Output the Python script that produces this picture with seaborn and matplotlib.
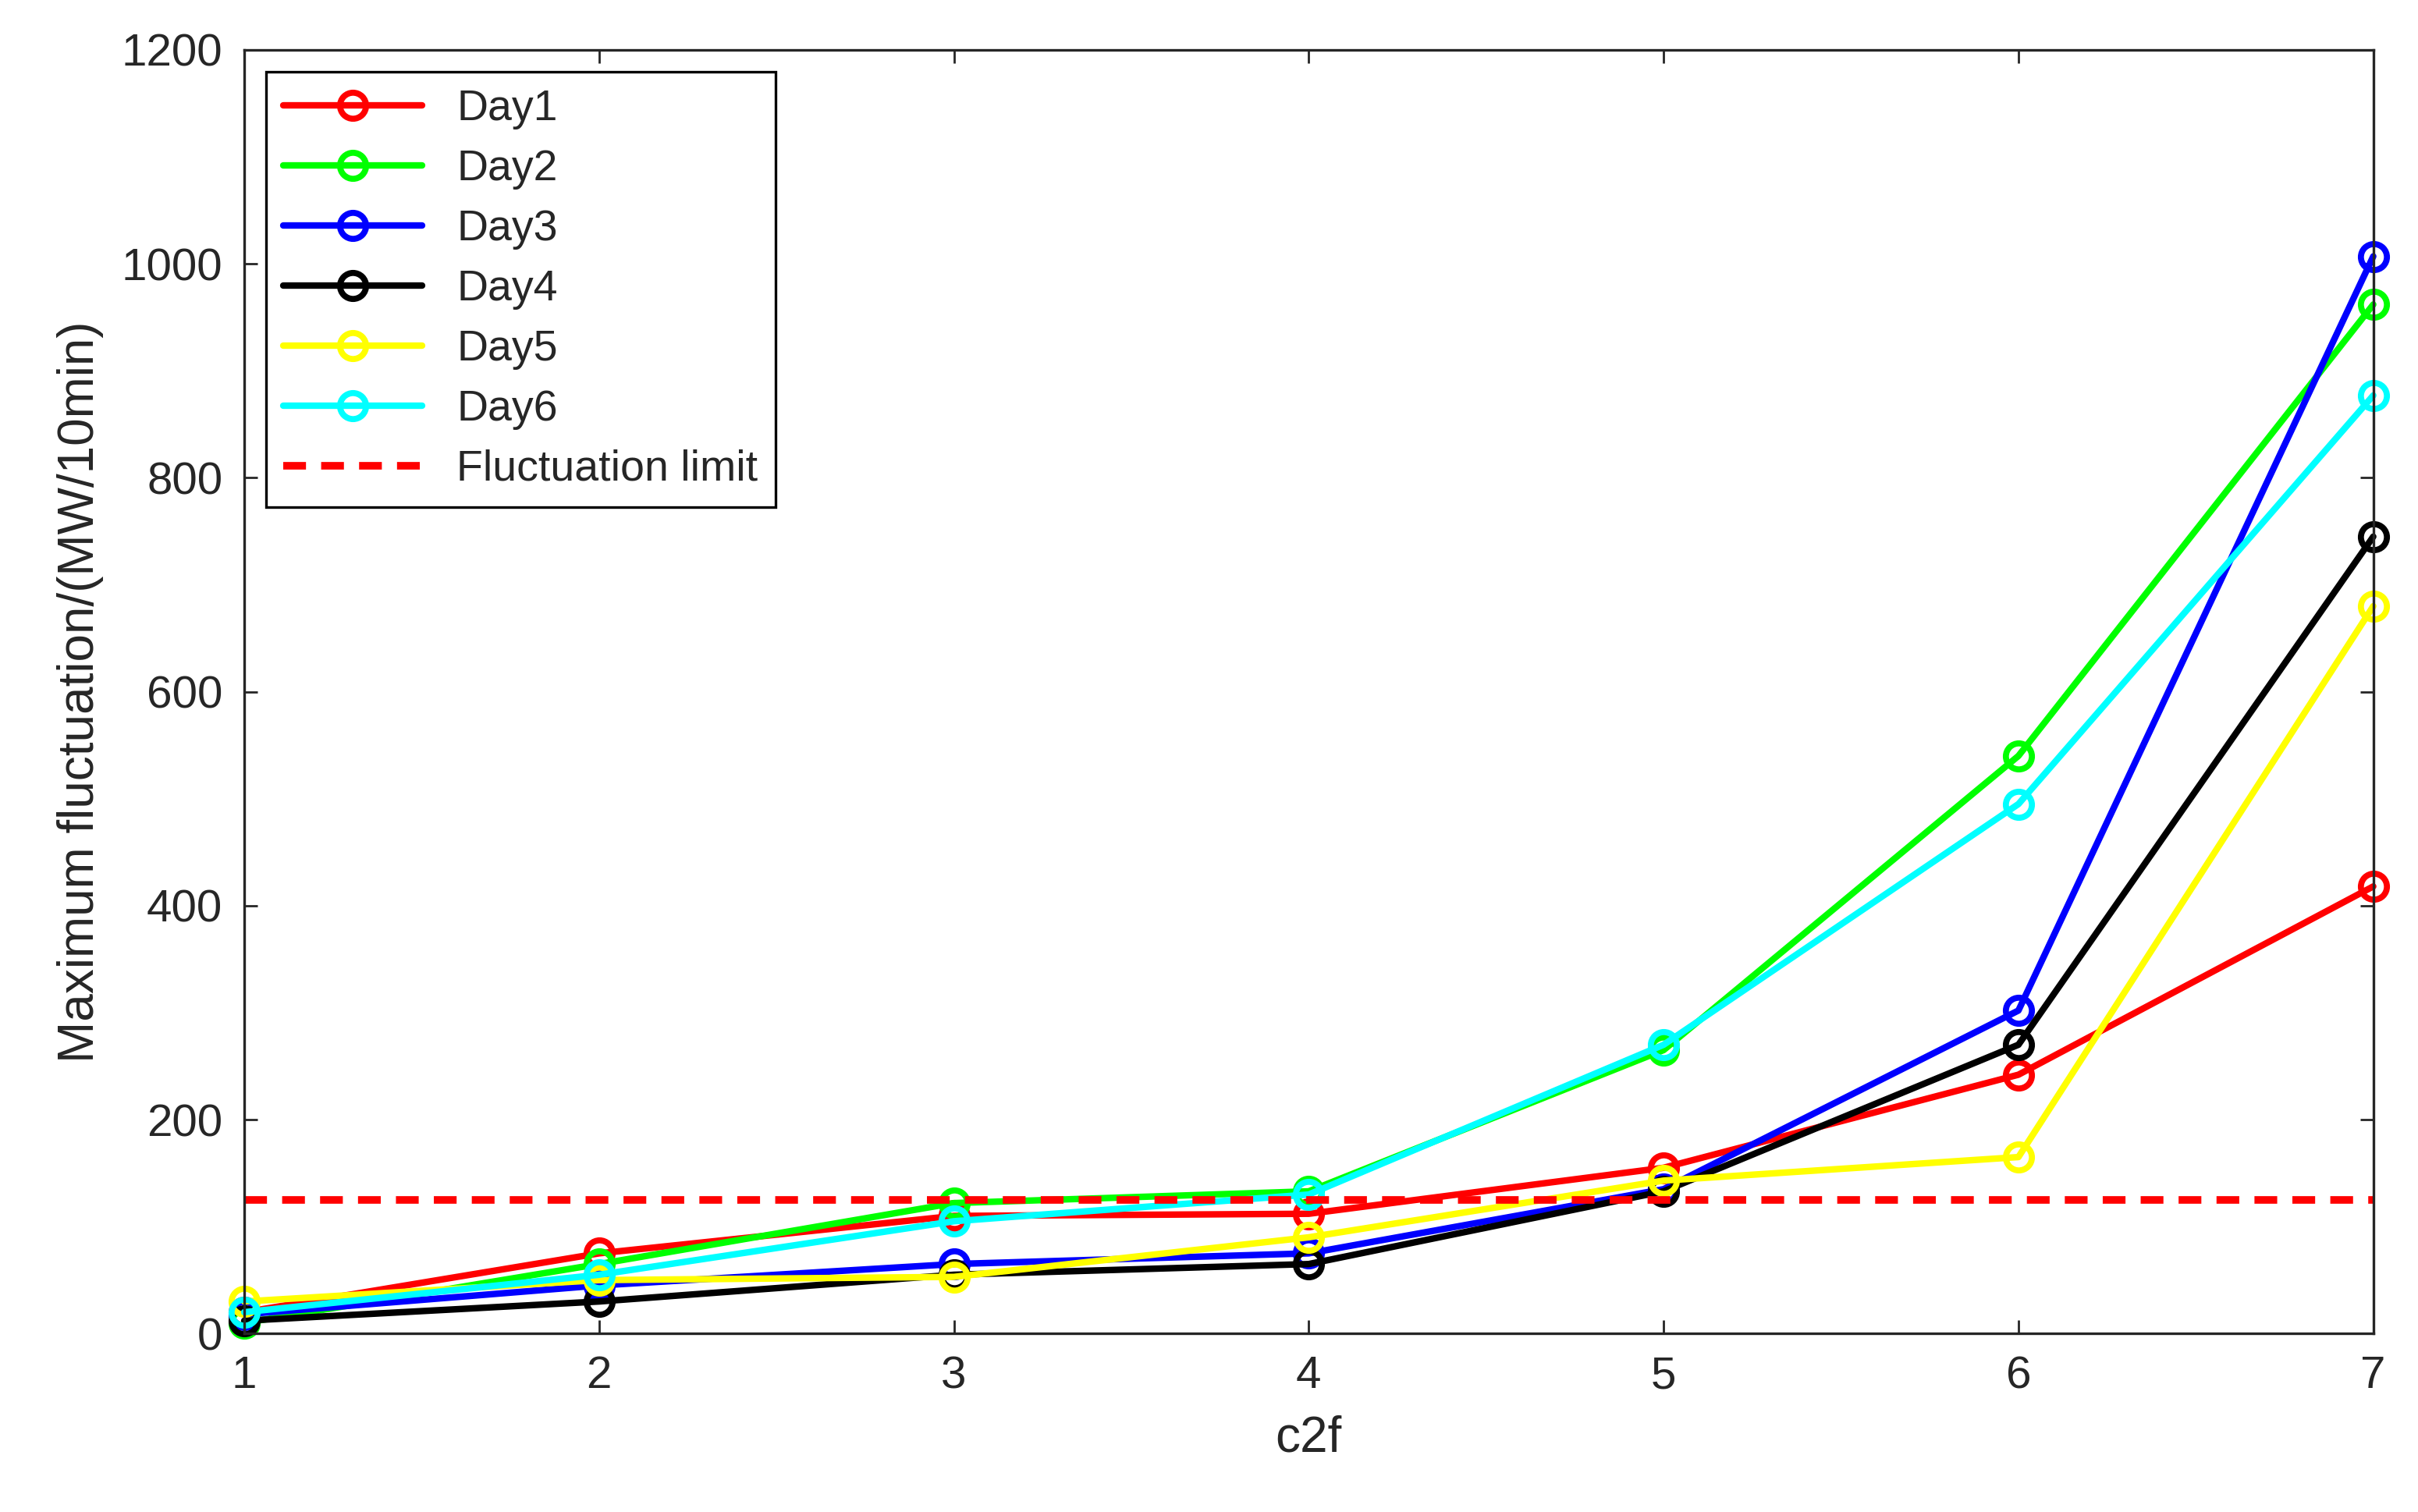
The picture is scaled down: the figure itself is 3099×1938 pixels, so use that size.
import numpy as np
import pandas as pd
import matplotlib
matplotlib.use("Agg")
import matplotlib.pyplot as plt
import seaborn as sns

# ==========================================
# DATA
# ==========================================
c2f = [1, 2, 3, 4, 5, 6, 7]
day1 = [20, 75, 110, 112, 155, 242, 418]
day2 = [10, 65, 122, 133, 265, 540, 962]
day3 = [18, 45, 65, 75, 135, 302, 1007]
day4 = [12, 30, 55, 65, 133, 270, 745]
day5 = [30, 50, 53, 90, 143, 165, 680]
day6 = [20, 55, 105, 130, 270, 495, 877]
fluctuation_limit = 125

series_names = ["Day1", "Day2", "Day3", "Day4", "Day5", "Day6"]
series_values = [day1, day2, day3, day4, day5, day6]
colors = ["#ff0000", "#00ff00", "#0000ff", "#000000", "#ffff00", "#00ffff"]

# ==========================================
# PLOT
# ==========================================
sns.set_style("ticks")
plt.rcParams["font.family"] = ["Arial", "Liberation Sans", "DejaVu Sans"]

fig = plt.figure(figsize=(15.495, 9.69), dpi=200)
ax = fig.add_axes([0.101, 0.118, 0.8805, 0.849])

for name, vals, col in zip(series_names, series_values, colors):
    sns.lineplot(
        x=c2f, y=vals, color=col, marker="o", markersize=12,
        markerfacecolor="none", markeredgecolor=col, markeredgewidth=2.8,
        linewidth=3, ax=ax, label=name, clip_on=False,
    )
ax.axhline(fluctuation_limit, color="#ff0000", linestyle=(0, (3, 2)),
           linewidth=3.5, label="Fluctuation limit")

ax.set_xlim(1, 7)
ax.set_ylim(0, 1200)
ax.set_xticks(c2f)
ax.set_yticks(range(0, 1201, 200))
ax.tick_params(labelsize=21, direction="in", length=6, width=1,
               top=True, right=True, pad=10)
for s in ax.spines.values():
    s.set_linewidth(1.2)
ax.set_xlabel("c2f", fontsize=23, labelpad=8)
ax.set_ylabel("Maximum fluctuation/(MW/10min)", fontsize=23, labelpad=8)

leg = ax.legend(loc="upper left", fontsize=20, fancybox=False, framealpha=1,
                edgecolor="black", handlelength=3.2, borderaxespad=0.5,
                labelspacing=0.45)
leg.get_frame().set_linewidth(1.2)

fig.savefig("out.png", dpi=200)
